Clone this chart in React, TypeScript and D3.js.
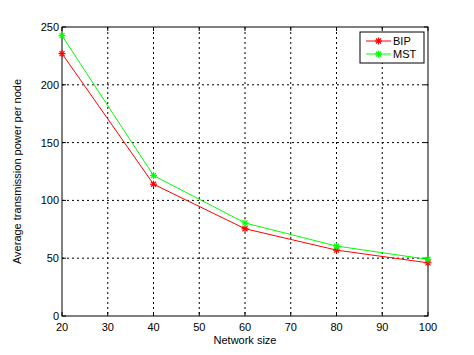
import React from "react";
import * as d3 from "d3";

const sizes = [20, 40, 60, 80, 100];
const bip = [227, 114, 75.5, 57, 46];
const mst = [242.5, 121.5, 80.5, 60.5, 49];
const xTicks = [20, 30, 40, 50, 60, 70, 80, 90, 100];
const yTicks = [0, 50, 100, 150, 200, 250];
const seriesNames = ["BIP", "MST"];
const seriesColors = ["#ff0000", "#00ff00"];

export default function App() {
  const W = 474, H = 355;
  const L = 62, R = 428, T = 27, B = 316;
  const x = d3.scaleLinear().domain([20, 100]).range([L, R]);
  const y = d3.scaleLinear().domain([0, 250]).range([B, T]);
  const line = d3.line<number>().x((_, i) => x(sizes[i])).y((d) => y(d));
  const font = "Liberation Sans, Arial, sans-serif";
  const series = [bip, mst];
  const marker = (cx: number, cy: number, c: string, k: string) => (
    <g key={k} stroke={c} strokeWidth={1.2}>
      <line x1={cx - 3.5} x2={cx + 3.5} y1={cy} y2={cy} />
      <line x1={cx} x2={cx} y1={cy - 3.5} y2={cy + 3.5} />
      <line x1={cx - 2.5} x2={cx + 2.5} y1={cy - 2.5} y2={cy + 2.5} />
      <line x1={cx - 2.5} x2={cx + 2.5} y1={cy + 2.5} y2={cy - 2.5} />
    </g>
  );
  return (
    <svg width={W} height={H} style={{ position: "absolute", left: 0, top: 0, background: "#fff" }}>
      <rect x={0} y={0} width={W} height={H} fill="#fff" />
      {/* grid */}
      {xTicks.slice(1, -1).map((t) => (
        <line key={"gx" + t} x1={x(t)} x2={x(t)} y1={T} y2={B} stroke="#000" strokeWidth={1} strokeDasharray="2,3" />
      ))}
      {yTicks.slice(1, -1).map((t) => (
        <line key={"gy" + t} x1={L} x2={R} y1={y(t)} y2={y(t)} stroke="#000" strokeWidth={1} strokeDasharray="2,3" />
      ))}
      {/* ticks */}
      {xTicks.map((t) => (
        <g key={"tx" + t}>
          <line x1={x(t)} x2={x(t)} y1={B} y2={B - 4} stroke="#000" />
          <line x1={x(t)} x2={x(t)} y1={T} y2={T + 4} stroke="#000" />
          <text x={x(t)} y={B + 15} textAnchor="middle" fontFamily={font} fontSize={11} fill="#000">{t}</text>
        </g>
      ))}
      {yTicks.map((t) => (
        <g key={"ty" + t}>
          <line x1={L} x2={L + 4} y1={y(t)} y2={y(t)} stroke="#000" />
          <line x1={R} x2={R - 4} y1={y(t)} y2={y(t)} stroke="#000" />
          <text x={L - 3} y={y(t) + 4} textAnchor="end" fontFamily={font} fontSize={11} fill="#000">{t}</text>
        </g>
      ))}
      <rect x={L} y={T} width={R - L} height={B - T} fill="none" stroke="#000" strokeWidth={1} />
      {/* lines */}
      {series.map((s, si) => (
        <g key={"s" + si}>
          <path d={line(s) || ""} fill="none" stroke={seriesColors[si]} strokeWidth={1} />
          {s.map((v, i) => marker(x(sizes[i]), y(v), seriesColors[si], "m" + si + "-" + i))}
        </g>
      ))}
      {/* legend */}
      <rect x={360} y={32} width={64} height={31} fill="#fff" stroke="#000" strokeWidth={1} />
      {seriesNames.map((n, i) => (
        <g key={"lg" + n}>
          <line x1={366} x2={391} y1={41 + i * 13} y2={41 + i * 13} stroke={seriesColors[i]} strokeWidth={1} />
          {marker(378.5, 41 + i * 13, seriesColors[i], "lm" + i)}
          <text x={393} y={45 + i * 13} fontFamily={font} fontSize={11} fill="#000">{n}</text>
        </g>
      ))}
      <text x={(L + R) / 2} y={344} textAnchor="middle" fontFamily={font} fontSize={11} fill="#000">Network size</text>
      <text transform={`translate(21,${(T + B) / 2}) rotate(-90)`} textAnchor="middle" fontFamily={font} fontSize={11} fill="#000">Average transmission power per node</text>
    </svg>
  );
}
